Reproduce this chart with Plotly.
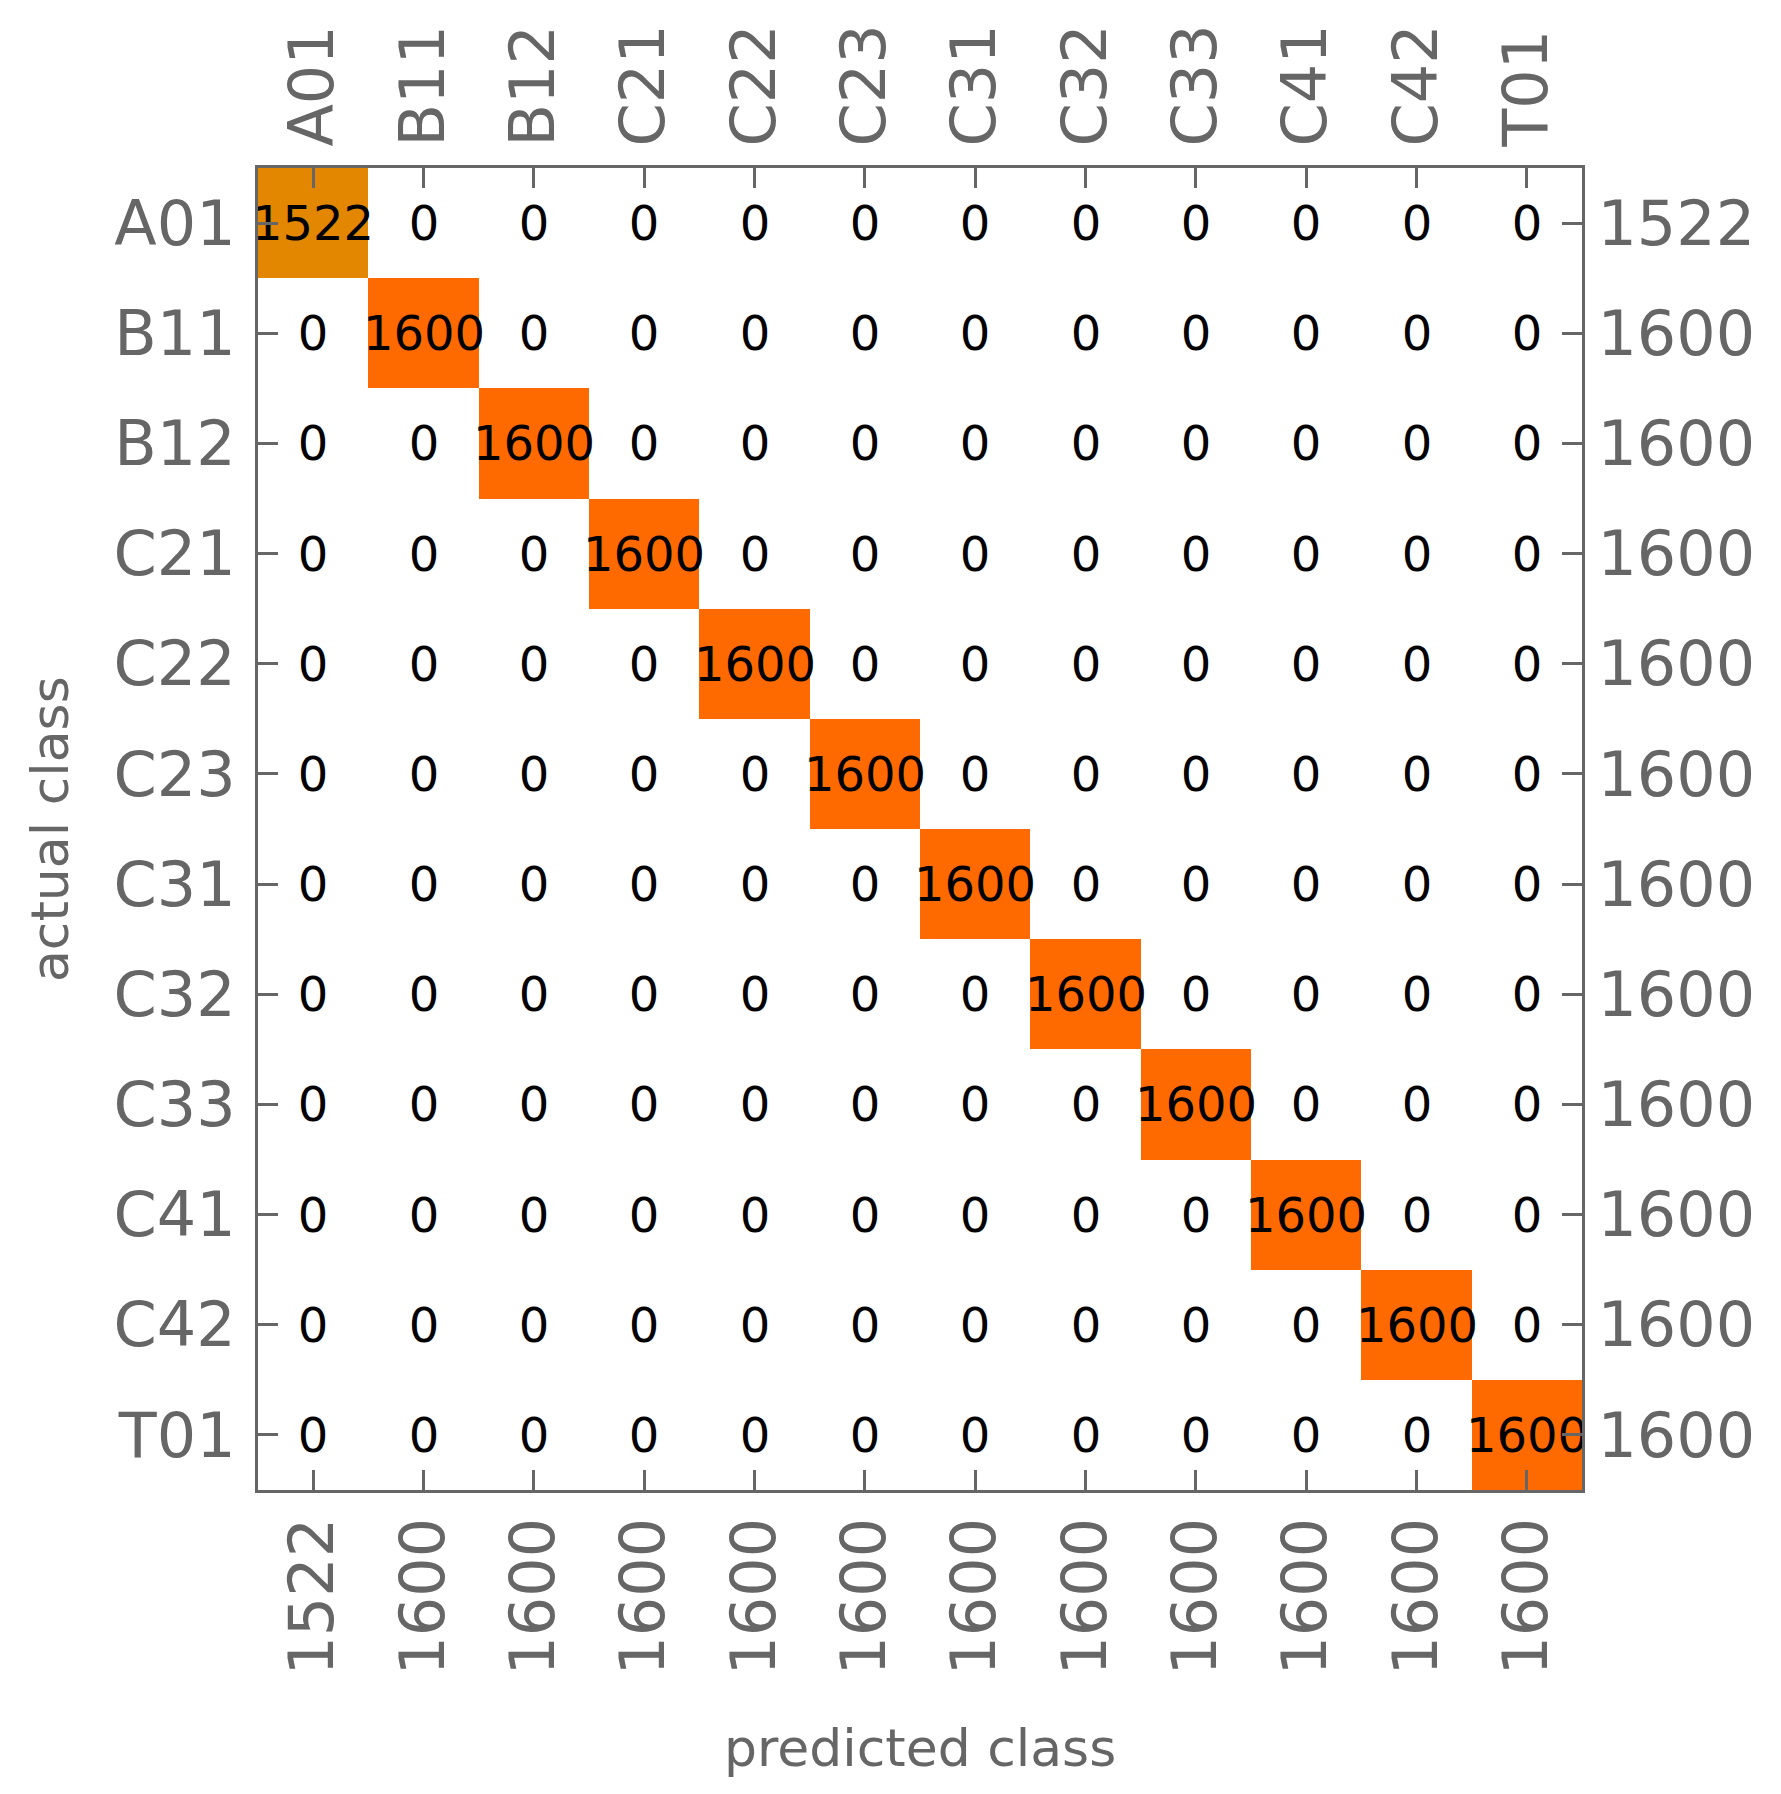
import numpy as np
import plotly.graph_objects as go

# confusion matrix, rows = actual class, columns = predicted class
classes = ["A01", "B11", "B12", "C21", "C22", "C23", "C31", "C32", "C33", "C41", "C42", "T01"]
counts = [
    [1522, 0, 0, 0, 0, 0, 0, 0, 0, 0, 0, 0],
    [0, 1600, 0, 0, 0, 0, 0, 0, 0, 0, 0, 0],
    [0, 0, 1600, 0, 0, 0, 0, 0, 0, 0, 0, 0],
    [0, 0, 0, 1600, 0, 0, 0, 0, 0, 0, 0, 0],
    [0, 0, 0, 0, 1600, 0, 0, 0, 0, 0, 0, 0],
    [0, 0, 0, 0, 0, 1600, 0, 0, 0, 0, 0, 0],
    [0, 0, 0, 0, 0, 0, 1600, 0, 0, 0, 0, 0],
    [0, 0, 0, 0, 0, 0, 0, 1600, 0, 0, 0, 0],
    [0, 0, 0, 0, 0, 0, 0, 0, 1600, 0, 0, 0],
    [0, 0, 0, 0, 0, 0, 0, 0, 0, 1600, 0, 0],
    [0, 0, 0, 0, 0, 0, 0, 0, 0, 0, 1600, 0],
    [0, 0, 0, 0, 0, 0, 0, 0, 0, 0, 0, 1600],
]

cm = np.array(counts)
row_sums = cm.sum(axis=1)
col_sums = cm.sum(axis=0)
idx = list(range(len(classes)))

GREY = "#666666"
FONT = "DejaVu Sans"

fig = go.Figure()
fig.add_trace(go.Heatmap(
    z=cm, x=idx, y=idx,
    zmin=0, zmax=1600,
    colorscale=[[0, "#ffffff"], [0.5, "#d9a400"], [0.95, "#e28800"], [1, "#ff6a00"]],
    showscale=False,
    texttemplate="%{z}",
    textfont=dict(family=FONT, size=48, color="black"),
    hoverinfo="skip",
))
# empty trace so the secondary axes (sums) get drawn
fig.add_trace(go.Scatter(x=[None], y=[None], xaxis="x2", yaxis="y2",
                         showlegend=False, hoverinfo="skip"))

axis_common = dict(
    showgrid=False, zeroline=False,
    showline=True, linecolor=GREY, linewidth=3,
    ticks="inside", ticklen=20, tickwidth=3, tickcolor=GREY,
    tickfont=dict(family=FONT, size=62, color=GREY),
    tickvals=idx,
)
xr = [-0.5, len(classes) - 0.5]
yr = [len(classes) - 0.5, -0.5]

# page body has an 8px margin, so the figure is a bit smaller than the window
fig.update_layout(
    width=1765, height=1778,
    margin=dict(l=250, r=191, t=160, b=296, pad=0),
    paper_bgcolor="white", plot_bgcolor="white",
    xaxis=dict(axis_common, side="top", range=xr, ticktext=classes,
               tickangle=-90, ticklabelstandoff=6),
    yaxis=dict(axis_common, range=yr, ticktext=classes, ticklabelstandoff=7),
    xaxis2=dict(axis_common, side="bottom", overlaying="x", anchor="y", range=xr,
                ticktext=[str(v) for v in col_sums], tickangle=-90, ticklabelstandoff=0),
    yaxis2=dict(axis_common, side="right", overlaying="y", anchor="x", range=yr,
                ticktext=[str(v) for v in row_sums], ticklabelstandoff=0),
    annotations=[
        dict(text="predicted class", xref="paper", yref="paper", x=0.5, y=0,
             xanchor="center", yanchor="middle", yshift=-258, showarrow=False,
             font=dict(family=FONT, size=52, color=GREY)),
        dict(text="actual class", xref="paper", yref="paper", x=0, y=0.5,
             xanchor="center", yanchor="middle", xshift=-208, textangle=-90,
             showarrow=False, font=dict(family=FONT, size=52, color=GREY)),
    ],
)

fig.write_html("out.html")
